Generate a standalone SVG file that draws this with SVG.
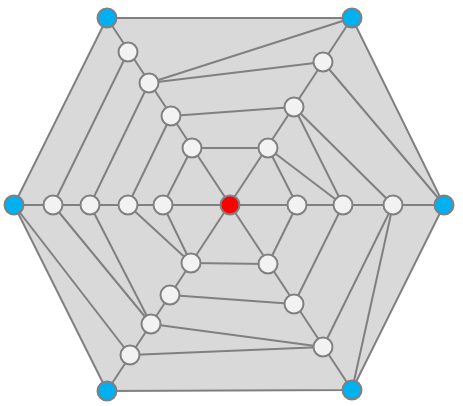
<svg xmlns="http://www.w3.org/2000/svg" width="463" height="406" viewBox="0 0 463 406">
<style>
.hex{fill:#d9d9d9;stroke:#808080;stroke-width:2}
.e{stroke:#808080;stroke-width:2;fill:none}
.w{fill:#f2f2f2;stroke:#808080;stroke-width:2}
.b{fill:#00b0f0;stroke:#808080;stroke-width:2}
.r{fill:#ff0000;stroke:#808080;stroke-width:2}
</style>
<rect width="463" height="406" fill="#ffffff"/>
<polygon class="hex" points="107,18 352,18 444,205 352,390 107,391 14,205"/>
<g id="connectors">
<line class="e" x1="14" y1="205" x2="444" y2="205"/>
<line class="e" x1="107" y1="18" x2="352" y2="390"/>
<line class="e" x1="352" y1="18" x2="107" y2="391"/>
<line class="e" x1="53" y1="205" x2="128" y2="52"/>
<line class="e" x1="90" y1="205" x2="149" y2="83"/>
<line class="e" x1="128" y1="205" x2="171" y2="116"/>
<line class="e" x1="163" y1="205" x2="192" y2="148"/>
<line class="e" x1="149" y1="83" x2="352" y2="18"/>
<line class="e" x1="149" y1="83" x2="323" y2="62"/>
<line class="e" x1="171" y1="116" x2="294" y2="107"/>
<line class="e" x1="192" y1="148" x2="268" y2="148"/>
<line class="e" x1="323" y1="62" x2="444" y2="205"/>
<line class="e" x1="294" y1="107" x2="343" y2="205"/>
<line class="e" x1="294" y1="107" x2="393" y2="205"/>
<line class="e" x1="268" y1="148" x2="297" y2="205"/>
<line class="e" x1="268" y1="148" x2="343" y2="205"/>
<line class="e" x1="14" y1="205" x2="130" y2="355"/>
<line class="e" x1="53" y1="205" x2="151" y2="324"/>
<line class="e" x1="90" y1="205" x2="151" y2="324"/>
<line class="e" x1="128" y1="205" x2="191" y2="263"/>
<line class="e" x1="163" y1="205" x2="191" y2="263"/>
<line class="e" x1="191" y1="263" x2="268" y2="264"/>
<line class="e" x1="170" y1="295" x2="294" y2="304"/>
<line class="e" x1="151" y1="324" x2="323" y2="347"/>
<line class="e" x1="130" y1="355" x2="323" y2="347"/>
<line class="e" x1="268" y1="264" x2="297" y2="205"/>
<line class="e" x1="294" y1="304" x2="343" y2="205"/>
<line class="e" x1="323" y1="347" x2="393" y2="205"/>
<line class="e" x1="352" y1="390" x2="393" y2="205"/>
</g>
<g id="n-TL"><circle class="b" cx="107" cy="18" r="9.5"/></g>
<g id="n-TR"><circle class="b" cx="352" cy="18" r="9.5"/></g>
<g id="n-L"><circle class="b" cx="14" cy="205" r="9.5"/></g>
<g id="n-R"><circle class="b" cx="444" cy="205" r="9.5"/></g>
<g id="n-BL"><circle class="b" cx="107" cy="391" r="9.5"/></g>
<g id="n-BR"><circle class="b" cx="352" cy="390" r="9.5"/></g>
<g id="n-C"><circle class="r" cx="230" cy="205" r="9.5"/></g>
<g id="n-h1"><circle class="w" cx="53" cy="205" r="9.5"/></g>
<g id="n-h2"><circle class="w" cx="90" cy="205" r="9.5"/></g>
<g id="n-h3"><circle class="w" cx="128" cy="205" r="9.5"/></g>
<g id="n-h4"><circle class="w" cx="163" cy="205" r="9.5"/></g>
<g id="n-h5"><circle class="w" cx="297" cy="205" r="9.5"/></g>
<g id="n-h6"><circle class="w" cx="343" cy="205" r="9.5"/></g>
<g id="n-h7"><circle class="w" cx="393" cy="205" r="9.5"/></g>
<g id="n-a1"><circle class="w" cx="128" cy="52" r="9.5"/></g>
<g id="n-a2"><circle class="w" cx="149" cy="83" r="9.5"/></g>
<g id="n-a3"><circle class="w" cx="171" cy="116" r="9.5"/></g>
<g id="n-a4"><circle class="w" cx="192" cy="148" r="9.5"/></g>
<g id="n-b1"><circle class="w" cx="323" cy="62" r="9.5"/></g>
<g id="n-b2"><circle class="w" cx="294" cy="107" r="9.5"/></g>
<g id="n-b3"><circle class="w" cx="268" cy="148" r="9.5"/></g>
<g id="n-c1"><circle class="w" cx="191" cy="263" r="9.5"/></g>
<g id="n-c2"><circle class="w" cx="170" cy="295" r="9.5"/></g>
<g id="n-c3"><circle class="w" cx="151" cy="324" r="9.5"/></g>
<g id="n-c4"><circle class="w" cx="130" cy="355" r="9.5"/></g>
<g id="n-d1"><circle class="w" cx="268" cy="264" r="9.5"/></g>
<g id="n-d2"><circle class="w" cx="294" cy="304" r="9.5"/></g>
<g id="n-d3"><circle class="w" cx="323" cy="347" r="9.5"/></g>
</svg>
